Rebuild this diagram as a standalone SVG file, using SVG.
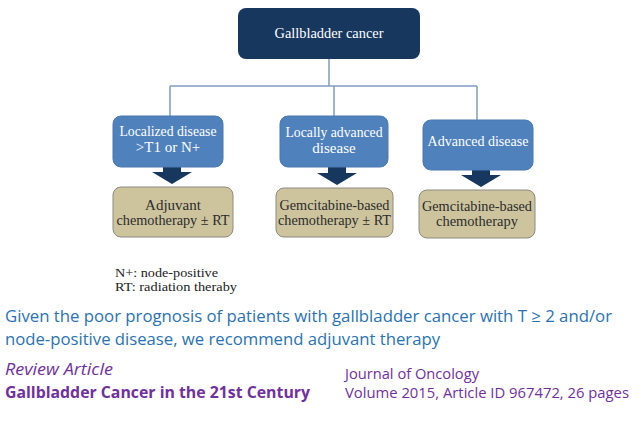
<svg xmlns="http://www.w3.org/2000/svg" width="638" height="425" viewBox="0 0 638 425">
<style>
.top{fill:#17375e;}
.mid{fill:#4f81bd;stroke:#4a78b0;stroke-width:1;}
.res{fill:#cdc49e;stroke:#8c8a80;stroke-width:1;}
.arr{fill:#17375e;}
.wt{font-family:"Liberation Serif",serif;font-size:15px;fill:#ffffff;text-anchor:middle;}
.bt{font-family:"Liberation Serif",serif;font-size:15px;fill:#2b2b2b;text-anchor:middle;}
.lg{font-family:"Liberation Serif",serif;font-size:13px;fill:#222;}
.conn{stroke:#7f9cc0;stroke-width:1.5;fill:none;}
.blue{font-family:"Open Sans",sans-serif;font-size:16.5px;fill:#2a72b5;}
.pur{font-family:"Open Sans",sans-serif;fill:#7030a0;}
</style>
<rect width="638" height="425" fill="#ffffff"/>
<g id="connectors">
<path class="conn" d="M329 59 V86 M170 86 H477 M170 86 V116 M334 86 V116 M477 86 V120"/>
<polygon class="arr" points="163,167 181,167 181,172 192,172 172,184 152,172 163,172"/>
<polygon class="arr" points="328,167 346,167 346,173 357,173 337,185 317,173 328,173"/>
<polygon class="arr" points="472,170 490,170 490,175 501,175 481,187 461,175 472,175"/>
</g>
<g id="gallbladder-cancer">
<rect class="top" x="238" y="8" width="182" height="51" rx="8"/>
<text class="wt" x="329" y="38" font-size="16" textLength="109" lengthAdjust="spacingAndGlyphs">Gallbladder cancer</text>
</g>
<g id="localized">
<rect class="mid" x="113" y="116" width="110" height="51" rx="8"/>
<text class="wt" x="168" y="136" textLength="97" lengthAdjust="spacingAndGlyphs">Localized disease</text>
<text class="wt" x="168" y="152">&gt;T1 or N+</text>
</g>
<g id="locally-advanced">
<rect class="mid" x="280" y="116" width="108" height="51" rx="8"/>
<text class="wt" x="334" y="137" textLength="97" lengthAdjust="spacingAndGlyphs">Locally advanced</text>
<text class="wt" x="334" y="153">disease</text>
</g>
<g id="advanced">
<rect class="mid" x="423" y="120" width="110" height="50" rx="8"/>
<text class="wt" x="478" y="146" textLength="101" lengthAdjust="spacingAndGlyphs">Advanced disease</text>
</g>
<g id="adjuvant">
<rect class="res" x="113" y="187" width="120" height="50" rx="8"/>
<text class="bt" x="173" y="210">Adjuvant</text>
<text class="bt" x="173" y="225" textLength="113" lengthAdjust="spacingAndGlyphs">chemotherapy ± RT</text>
</g>
<g id="gem-rt">
<rect class="res" x="276" y="188" width="117" height="49" rx="8"/>
<text class="bt" x="334.5" y="210" textLength="110" lengthAdjust="spacingAndGlyphs">Gemcitabine-based</text>
<text class="bt" x="334.5" y="225" textLength="113" lengthAdjust="spacingAndGlyphs">chemotherapy ± RT</text>
</g>
<g id="gem">
<rect class="res" x="419" y="190" width="116" height="48" rx="8"/>
<text class="bt" x="477" y="211" textLength="110" lengthAdjust="spacingAndGlyphs">Gemcitabine-based</text>
<text class="bt" x="477" y="226" textLength="82" lengthAdjust="spacingAndGlyphs">chemotherapy</text>
</g>
<text class="lg" x="115" y="277" textLength="103" lengthAdjust="spacingAndGlyphs">N+: node-positive</text>
<text class="lg" x="115" y="291" textLength="122" lengthAdjust="spacingAndGlyphs">RT: radiation theraby</text>
<text class="blue" x="5" y="322" textLength="607" lengthAdjust="spacingAndGlyphs">Given the poor prognosis of patients with gallbladder cancer with T ≥ 2 and/or</text>
<text class="blue" x="5" y="345" textLength="435" lengthAdjust="spacingAndGlyphs">node-positive disease, we recommend adjuvant therapy</text>
<text class="pur" x="5" y="375" font-size="16.5" font-style="italic" textLength="108" lengthAdjust="spacingAndGlyphs">Review Article</text>
<text class="pur" x="5" y="398" font-size="16.5" font-weight="bold" textLength="305" lengthAdjust="spacingAndGlyphs">Gallbladder Cancer in the 21st Century</text>
<text class="pur" x="345" y="379" font-size="14.5" textLength="134" lengthAdjust="spacingAndGlyphs">Journal of Oncology</text>
<text class="pur" x="345" y="398" font-size="14.5" textLength="284" lengthAdjust="spacingAndGlyphs">Volume 2015, Article ID 967472, 26 pages</text>
</svg>
